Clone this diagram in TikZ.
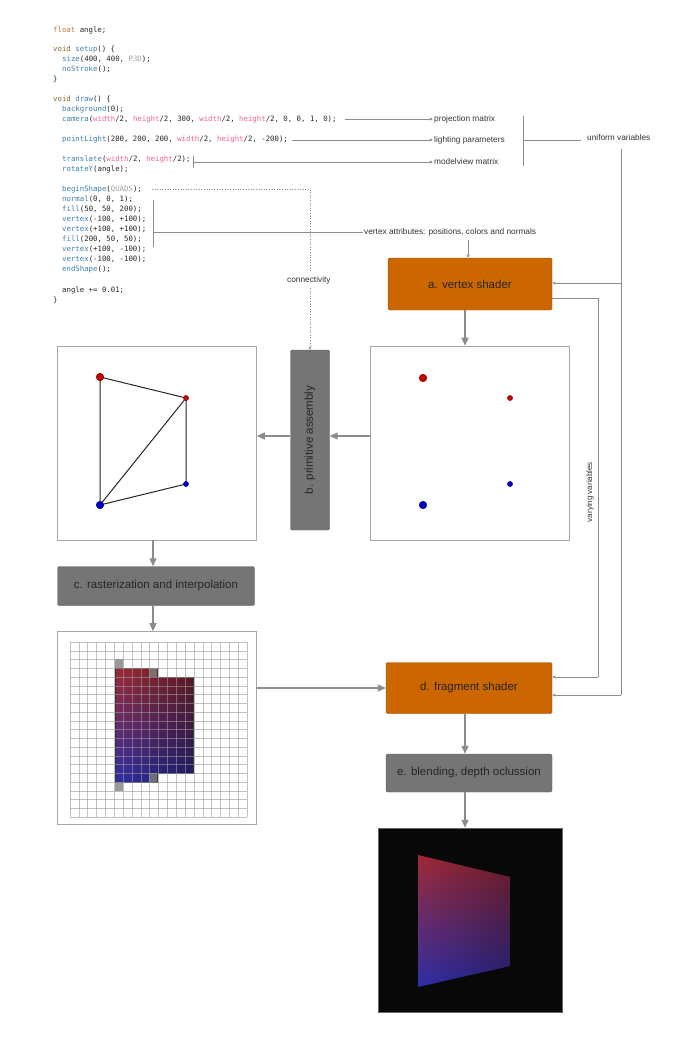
\documentclass[tikz,border=0pt]{standalone}
\usepackage{fontspec}
\setmainfont{Liberation Sans}
\newfontfamily\codefont{DejaVu Sans Mono}
\usetikzlibrary{arrows.meta,fadings}
\definecolor{kw}{HTML}{C8743C}
\definecolor{vd}{HTML}{8A6A2A}
\definecolor{fn}{HTML}{3B7FB0}
\definecolor{pk}{HTML}{F0609A}
\definecolor{cn}{HTML}{A0A0A0}
\definecolor{org}{HTML}{CC6600}
\definecolor{gbox}{HTML}{757575}
\definecolor{ln}{HTML}{8C8C8C}
\definecolor{rq}{HTML}{A02A35}
\definecolor{bq}{HTML}{2E2EA8}
\newcommand{\K}[1]{\textcolor{kw}{#1}}
\newcommand{\V}[1]{\textcolor{vd}{#1}}
\newcommand{\F}[1]{\textcolor{fn}{#1}}
\newcommand{\Pk}[1]{\textcolor{pk}{#1}}
\newcommand{\C}[1]{\textcolor{cn}{#1}}
\begin{document}
\begin{tikzpicture}[x=1pt,y=-1pt,
  code/.style={anchor=west,inner sep=0,font=\codefont\fontsize{7.35}{9}\selectfont,text=black!85},
  lbl/.style={anchor=west,inner sep=1pt,font=\fontsize{8.3}{10}\selectfont,text=black!80},
  con/.style={draw=ln,line width=0.7pt},
  arr/.style={con,line width=1.3pt,-{Triangle[length=8pt,width=7pt]}},
  sarr/.style={draw=ln,line width=0.5pt,-{Stealth[length=3.5pt,width=3pt]}},
  obox/.style={fill=org,draw=org!80!black,rounded corners=1.5pt,font=\fontsize{11.5}{13}\selectfont,text=black!85},
  gb/.style={fill=gbox,draw=gbox!80!black,rounded corners=1.5pt,font=\fontsize{11.5}{13}\selectfont,text=black!85},
  panel/.style={draw=black!35,line width=0.6pt,fill=white}]
\useasboundingbox (0,0) rectangle (680,1038);
% code
\node[code] at (53,30) {\K{float} angle;};
\node[code] at (53,49) {\V{void} \F{setup}() \{};
\node[code] at (62,59) {\F{size}(400, 400, \C{P3D});};
\node[code] at (62,69) {\F{noStroke}();};
\node[code] at (53,79) {\}};
\node[code] at (53,99) {\V{void} \F{draw}() \{};
\node[code] at (62,109) {\F{background}(0);};
\node[code] (cam) at (62,119) {\F{camera}(\Pk{width}/2, \Pk{height}/2, 300, \Pk{width}/2, \Pk{height}/2, 0, 0, 1, 0);};
\node[code] (pl) at (62,139) {\F{pointLight}(200, 200, 200, \Pk{width}/2, \Pk{height}/2, -200);};
\node[code] (tr) at (62,159) {\F{translate}(\Pk{width}/2, \Pk{height}/2);};
\node[code] at (62,169) {\F{rotateY}(angle);};
\node[code] (bs) at (62,189) {\F{beginShape}(\C{QUADS});};
\node[code] at (62,199) {\F{normal}(0, 0, 1);};
\node[code] at (62,209) {\F{fill}(50, 50, 200);};
\node[code] at (62,219) {\F{vertex}(-100, +100);};
\node[code] at (62,229) {\F{vertex}(+100, +100);};
\node[code] at (62,239) {\F{fill}(200, 50, 50);};
\node[code] at (62,249) {\F{vertex}(+100, -100);};
\node[code] at (62,259) {\F{vertex}(-100, -100);};
\node[code] at (62,269) {\F{endShape}();};
\node[code] at (62,290) {angle += 0.01;};
\node[code] at (53,300) {\}};
% labels
\node[lbl] (pm) at (433,119) {projection matrix};
\node[lbl] (lp) at (433,140) {lighting parameters};
\node[lbl] (mm) at (433,162) {modelview matrix};
\node[lbl] (uv) at (586,138) {uniform variables};
\node[lbl] (va) at (363,232) {vertex attributes: positions, colors and normals};
\node[lbl] (cy) at (286,280) {connectivity};
\coordinate (c1) at (345,119); \coordinate (c2) at (292,140); \coordinate (c3) at (193,162);
\draw[sarr] (c1) -- (pm.west);
\draw[sarr] (c2) -- (lp.west);
\draw[sarr] (c3) -- (mm.west);
\draw[con,line width=0.5pt] (193,156) -- (193,168);
\draw[con,line width=0.5pt] (523,116) -- (523,166) (523,140) -- (581,140);
\draw[con,line width=0.5pt] (153,200) -- (153,247) (153,232) -- (va.west);
% boxes
\node[obox,minimum width=164pt,minimum height=52pt] (vs) at (470,284) {a. vertex shader};
\node[obox,minimum width=166pt,minimum height=51pt] (fs) at (469,688) {d. fragment shader};
\node[gb,minimum width=197pt,minimum height=39pt] (ra) at (156,586) {c. rasterization and interpolation};
\node[gb,minimum width=166pt,minimum height=38pt] (bl) at (469,773) {e. blending, depth oclussion};
\node[gb,minimum width=39pt,minimum height=180pt] (pa) at (310,440) {};
\node[rotate=90,font=\fontsize{11.5}{13}\selectfont,text=black!85] at (310,440) {b. primitive assembly};
\draw[sarr] (va.south -| 468,0) ++(0,3) -- (vs.north -| 468,0);
% uniform connections
\draw[con,line width=0.5pt] (621,149) -- (621,695);
\draw[sarr] (621,283) -- (vs.east |- 0,283);
\draw[sarr] (621,695) -- (fs.east |- 0,695);
% varying
\draw[con,line width=0.5pt] (vs.east |- 0,298) -- (598,298) -- (598,677);
\draw[sarr] (598,677) -- (fs.east |- 0,677);
\node[rotate=90,font=\fontsize{8}{9}\selectfont,text=black!80] at (590,492) {varying variables};
% connectivity
\draw[draw=ln,line width=0.6pt,dotted] (152,189) -- (310,189) -- (310,272);
\draw[draw=ln,line width=0.6pt,dotted,-{Stealth[length=3.5pt,width=3pt]}] (310,288) -- (pa.north);
% panels
\node[panel,minimum width=199pt,minimum height=194pt] (p1) at (470,443) {};
\node[panel,minimum width=199pt,minimum height=194pt] (p2) at (157,443) {};
\node[panel,minimum width=199pt,minimum height=193pt] (p3) at (157,728) {};
\node[fill=black!97,draw=black!60,minimum width=184pt,minimum height=184pt,inner sep=0] (p4) at (470,920) {};
\draw[arr] (vs.south -| 465,0) -- (p1.north -| 465,0);
\draw[arr] (p1.west |- 0,436) -- (pa.east |- 0,436);
\draw[arr] (pa.west |- 0,436) -- (p2.east |- 0,436);
\draw[arr] (p2.south -| 153,0) -- (ra.north -| 153,0);
\draw[arr] (ra.south -| 153,0) -- (p3.north -| 153,0);
\draw[arr] (p3.east |- 0,688) -- (fs.west);
\draw[arr] (fs.south -| 465,0) -- (bl.north -| 465,0);
\draw[arr] (bl.south -| 465,0) -- (p4.north -| 465,0);
% points panel
\tikzset{rd/.style={fill=red!80!black,draw=red!40!black,line width=0.4pt},bd/.style={fill=blue!80!black,draw=blue!40!black,line width=0.4pt}}
\fill[rd] (423,378) circle (3.8);
\fill[rd] (510,398) circle (2.6);
\fill[bd] (423,505) circle (3.8);
\fill[bd] (510,484) circle (2.6);
% triangles panel
\coordinate (A) at (100,377); \coordinate (B) at (186,398); \coordinate (Cc) at (186,484); \coordinate (D) at (100,505);
\draw[black!85,line width=1pt] (A) -- (B) -- (Cc) -- (D) -- cycle (D) -- (B);
\fill[rd] (A) circle (3.8);
\fill[rd] (B) circle (2.6);
\fill[bd] (D) circle (3.8);
\fill[bd] (Cc) circle (2.6);
% raster
\def\rpath{(115,668) -- (157,668) -- (157,677) -- (193,677) -- (193,773) -- (157,773) -- (157,782) -- (115,782) -- cycle}
\shade[top color=rq,bottom color=bq] \rpath;
\fill[black,opacity=0.4,path fading=west] \rpath;
\draw[black!80,line width=0.5pt] \rpath;
\fill[black!50,opacity=0.8] (115,659) rectangle (123,668) (115,782) rectangle (123,791) (149,668) rectangle (157,677) (149,773) rectangle (157,782);
\foreach \i in {0,...,20} {
  \draw[black!40,line width=0.5pt,opacity=0.6] (70+\i*8.85,642) -- (70+\i*8.85,817);
  \draw[black!40,line width=0.5pt,opacity=0.6] (70,642+\i*8.75) -- (247,642+\i*8.75);
}
% final
\begin{scope}
\clip (418,855) -- (510,877) -- (510,966) -- (418,987) -- cycle;
\shade[top color=rq,bottom color=bq] (418,855) rectangle (510,987);
\fill[black,opacity=0.3,path fading=west] (418,855) rectangle (510,987);
\end{scope}
\end{tikzpicture}
\end{document}
